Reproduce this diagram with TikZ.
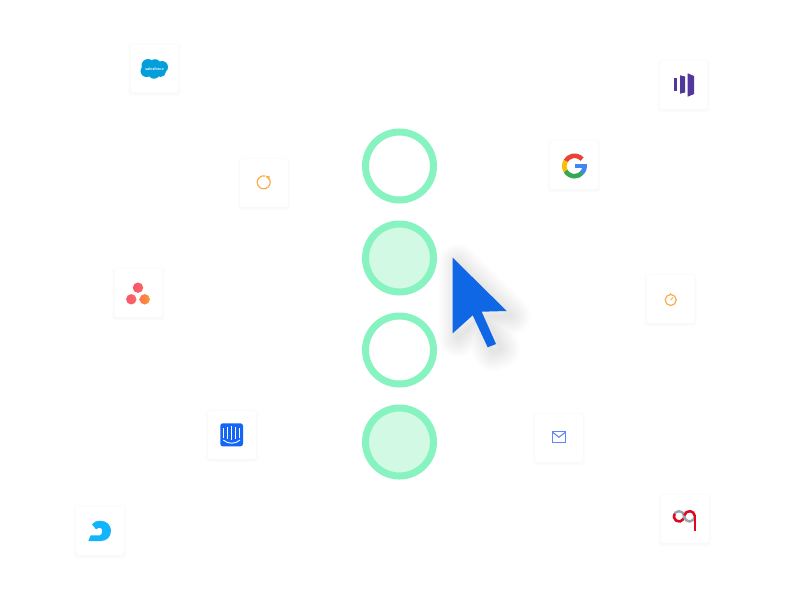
\documentclass[tikz,border=0pt]{standalone}
\usetikzlibrary{shadows}
\definecolor{ringgreen}{HTML}{86F3C0}
\definecolor{softgreen}{HTML}{D1F9E4}
\definecolor{cursorblue}{HTML}{0F67E6}
\definecolor{iconorange}{HTML}{F9AD4A}
\definecolor{mailblue}{HTML}{5F86F7}
\definecolor{forceblue}{HTML}{049FDB}
\definecolor{markpurple}{HTML}{53389B}
\definecolor{intblue}{HTML}{1467F5}
\definecolor{rollblue}{HTML}{12B5FB}
\definecolor{asanapink}{HTML}{F9556F}
\definecolor{asanaorange}{HTML}{FC9A2E}
\definecolor{oqred}{HTML}{E2061F}
\definecolor{oqgray}{HTML}{9AA3AB}
\definecolor{gred}{HTML}{EA4335}
\definecolor{gyellow}{HTML}{FBBC05}
\definecolor{ggreen}{HTML}{34A853}
\definecolor{gblue}{HTML}{4285F4}
\tikzset{
  card/.style={fill=white, rounded corners=2.5pt, minimum size=48pt, inner sep=0pt,
    general shadow={fill=black, opacity=.004, shadow yshift=-1pt, shadow scale=1.12},
    general shadow={fill=black, opacity=.004, shadow yshift=-1pt, shadow scale=1.09},
    general shadow={fill=black, opacity=.004, shadow yshift=-1pt, shadow scale=1.07},
    general shadow={fill=black, opacity=.004, shadow yshift=-1pt, shadow scale=1.05},
    general shadow={fill=black, opacity=.004, shadow yshift=-1pt, shadow scale=1.03},
    general shadow={fill=black, opacity=.004, shadow yshift=-1pt, shadow scale=1.01}},
  ring/.style={circle, draw=ringgreen, line width=7pt, minimum size=68pt, inner sep=0pt},
  ringfull/.style={ring, fill=softgreen},
  ringempty/.style={ring, fill=white},
  iconline/.style={iconorange, line width=1.2pt},
  gpart/.style={line width=4.6pt},
  oqpart/.style={line width=2.4pt}
}
\begin{document}
\begin{tikzpicture}[x=1pt,y=-1pt]
\useasboundingbox (0,0) rectangle (800,600);
\fill[white] (0,0) rectangle (800,600);

\node[ringempty] (ring1) at (399.5,166) {};
\node[ringfull] (ring2) at (399.5,258) {};
\node[ringempty] (ring3) at (399.5,350) {};
\node[ringfull] (ring4) at (399.5,442) {};

\node[card] (salesforce) at (154.5,68.5) {};
\node[card] (refresh) at (264,183) {};
\node[card] (marketo) at (683.5,85) {};
\node[card] (google) at (574,165) {};
\node[card] (asana) at (138.5,293) {};
\node[card] (intercom) at (232,435) {};
\node[card] (adroll) at (100,531) {};
\node[card] (stopwatch) at (670.5,299) {};
\node[card] (mail) at (559,438) {};
\node[card] (oq) at (685,519) {};

\foreach \cx/\cy/\cr in {148/65.5/6.5,155/65/5.8,162/67/6,146.5/71/6,154/72.7/6,160.5/71.5/5.5}
  \fill[forceblue] (\cx,\cy) circle[radius=\cr];
\node[text=white, font=\sffamily\bfseries, scale=.42, inner sep=0pt] (forcetext) at (154.5,68.7) {salesforce};

\draw[iconline] (263.7,182.3) ++(-45:6.5) arc[start angle=-45,end angle=285,radius=6.5];
\fill[iconorange] (265.6,176.4) -- (269.6,175.8) -- (269,180) -- cycle;

\fill[markpurple] (673.7,78.3) rectangle (677.3,90.7);
\fill[markpurple] (680,75.3) -- (685,76.5) -- (685,92.5) -- (680,93.7) -- cycle;
\fill[markpurple] (687.7,73.3) -- (694,76) -- (694,94) -- (687.7,96.7) -- cycle;

\draw[gpart,gred] (574.5,166) ++(-42:10.2) arc[start angle=-42,end angle=-152,radius=10.2];
\draw[gpart,gyellow] (574.5,166) ++(-150:10.2) arc[start angle=-150,end angle=-212,radius=10.2];
\draw[gpart,ggreen] (574.5,166) ++(-210:10.2) arc[start angle=-210,end angle=-318,radius=10.2];
\draw[gpart,gblue] (574.5,166) ++(-316:10.2) arc[start angle=-316,end angle=-360,radius=10.2];
\fill[gblue] (574.5,163.7) rectangle (587,168.3);

\shade[left color=asanapink, right color=asanapink!80!asanaorange] (138,287.7) circle[radius=5.2];
\shade[left color=asanapink, right color=asanapink!70!asanaorange] (131.3,299.3) circle[radius=5.2];
\shade[left color=asanapink!55!asanaorange, right color=asanaorange] (144.7,299.3) circle[radius=5.2];

\fill[intblue, rounded corners=2.5pt] (220.3,423.3) rectangle (243,446.3);
\draw[white, line width=.9pt] (223.7,428) -- (223.7,437.5);
\draw[white, line width=.9pt] (227.7,426.7) -- (227.7,439.3);
\draw[white, line width=.9pt] (231.7,426.2) -- (231.7,439.8);
\draw[white, line width=.9pt] (235.7,426.7) -- (235.7,439.3);
\draw[white, line width=.9pt] (239.7,428) -- (239.7,437.5);
\draw[white, line width=.9pt] (223.3,440) .. controls (228,444.3) and (235.5,444.3) .. (240,440);

\fill[rollblue] (92,524.3) .. controls (94,521.5) and (97,520.7) .. (100,520.7)
  .. controls (106.5,520.7) and (111,525) .. (111,530.7)
  .. controls (111,537) and (106.5,541) .. (100.7,541)
  -- (88.3,541) -- (90.7,535.3) -- (100,535.3)
  .. controls (101.5,535.3) and (102.3,532.5) .. (102.3,530.7)
  .. controls (102.3,529) and (101,527.7) .. (99.3,527.7)
  .. controls (98,527.7) and (97,528.3) .. (96,529.3) -- cycle;

\draw[iconline] (670.7,300) circle[radius=5.5];
\draw[iconline] (670.7,294.5) -- (670.7,292.5);
\draw[iconline, line width=.9pt] (670.7,300) -- (672.8,297.5);

\draw[mailblue, line width=1.1pt] (552.3,431.7) rectangle (565.7,442.3);
\draw[mailblue, line width=1.1pt] (552.3,432) -- (559,437.2) -- (565.7,432);

\draw[oqpart,oqgray] (679,516.3) circle[radius=5.2];
\draw[oqpart,oqgray] (689.5,516.3) circle[radius=5.2];
\draw[oqpart,oqred] (679,516.3) ++(-150:5.2) arc[start angle=-150,end angle=-330,radius=5.2];
\draw[oqpart,oqred] (689.5,516.3) ++(-170:5.2) arc[start angle=-170,end angle=-10,radius=5.2];
\draw[oqpart,oqred] (694.7,515) -- (694.7,530.7);

\foreach \w in {2,5,...,38}
  \draw[black, opacity=.006, line join=round, line width=\w pt, xshift=5pt, yshift=-5pt]
    (452.7,257.7) -- (506.7,311) -- (481.7,311.7) -- (496,344) -- (487.7,347.3) -- (472.7,315.3) -- (452.7,333.3) -- cycle;
\fill[cursorblue] (452.7,257.7) -- (506.7,311) -- (481.7,311.7) -- (496,344) -- (487.7,347.3) -- (472.7,315.3) -- (452.7,333.3) -- cycle;
\end{tikzpicture}
\end{document}
